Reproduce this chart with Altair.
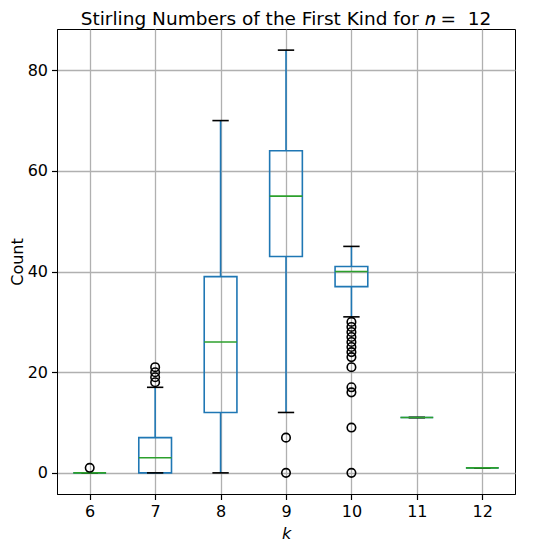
import altair as alt
import pandas as pd

# ---- data ----
ks = [6, 7, 8, 9, 10, 11, 12]
q1 = [0, 0, 12, 43, 37, 11, 1]
med = [0, 3, 26, 55, 40, 11, 1]
q3 = [0, 7, 39, 64, 41, 11, 1]
whisk_lo = [0, 0, 0, 12, 31, 11, 1]
whisk_hi = [0, 17, 70, 84, 45, 11, 1]

flier_k = [6, 7, 7, 7, 7, 9, 9,
           10, 10, 10, 10, 10, 10, 10, 10, 10, 10, 10, 10, 10]
flier_v = [1, 18, 19, 20, 21, 7, 0,
           30, 29, 28, 27, 26, 25, 24, 23, 21, 17, 16, 9, 0]

stats = pd.DataFrame({"k": ks, "q1": q1, "med": med, "q3": q3,
                      "lo": whisk_lo, "hi": whisk_hi})
fliers = pd.DataFrame({"k": flier_k, "v": flier_v})

BLUE = "#1f77b4"
GREEN = "#2ca02c"
LW = 1.6

xscale = alt.Scale(domain=[5.5, 12.5], nice=False, zero=False)
yscale = alt.Scale(domain=[-4.2, 88.2], nice=False, zero=False)

xaxis = alt.Axis(values=ks, title="k", format="d", titleFontStyle="italic",
                 titlePadding=6)
yaxis = alt.Axis(values=[0, 20, 40, 60, 80], title="Count", titlePadding=2)

base = alt.Chart(stats).transform_calculate(
    bl="datum.k - 0.25", br="datum.k + 0.25",
    cl="datum.k - 0.125", cr="datum.k + 0.125",
)

box = base.mark_rect(fill=None, fillOpacity=0, stroke=BLUE, strokeWidth=LW).encode(
    x=alt.X("bl:Q", scale=xscale, axis=xaxis),
    x2="br:Q",
    y=alt.Y("q1:Q", scale=yscale, axis=yaxis),
    y2="q3:Q",
)

wlo = base.mark_rule(color=BLUE, strokeWidth=LW).encode(
    x=alt.X("k:Q", scale=xscale), y=alt.Y("lo:Q", scale=yscale), y2="q1:Q")
whi = base.mark_rule(color=BLUE, strokeWidth=LW).encode(
    x=alt.X("k:Q", scale=xscale), y=alt.Y("q3:Q", scale=yscale), y2="hi:Q")

cap_lo = base.mark_rule(color="black", strokeWidth=LW).encode(
    x=alt.X("cl:Q", scale=xscale), x2="cr:Q", y=alt.Y("lo:Q", scale=yscale))
cap_hi = base.mark_rule(color="black", strokeWidth=LW).encode(
    x=alt.X("cl:Q", scale=xscale), x2="cr:Q", y=alt.Y("hi:Q", scale=yscale))

median = base.mark_rule(color=GREEN, strokeWidth=LW).encode(
    x=alt.X("bl:Q", scale=xscale), x2="br:Q", y=alt.Y("med:Q", scale=yscale))

pts = alt.Chart(fliers).mark_point(shape="circle", filled=False, color="black",
                                   size=72, strokeWidth=1.6, opacity=1).encode(
    x=alt.X("k:Q", scale=xscale), y=alt.Y("v:Q", scale=yscale))

chart = alt.layer(box, wlo, whi, cap_lo, cap_hi, median, pts).properties(
    width=458, height=465,
    title=alt.TitleParams("Stirling Numbers of the First Kind for \U0001D45B = \u00a012",
                          fontSize=18.5, fontWeight="normal", font="DejaVu Sans",
                          color="black", offset=1, anchor="middle"),
    autosize=alt.AutoSizeParams(type="none"),
    padding={"left": 49, "top": 21, "right": 23, "bottom": 48},
).configure_view(
    stroke="black", strokeWidth=1
).configure_axis(
    grid=True, gridColor="#b0b0b0", gridWidth=1.3,
    domainColor="black", domainWidth=1,
    tickColor="black", tickSize=5.5, tickWidth=1.2,
    labelColor="black", labelFontSize=16, labelFont="DejaVu Sans", labelPadding=4,
    titleColor="black", titleFontSize=16, titleFont="DejaVu Sans",
    titleFontWeight="normal",
)

chart.save("out.html", embed_options={"renderer": "svg", "actions": False})
